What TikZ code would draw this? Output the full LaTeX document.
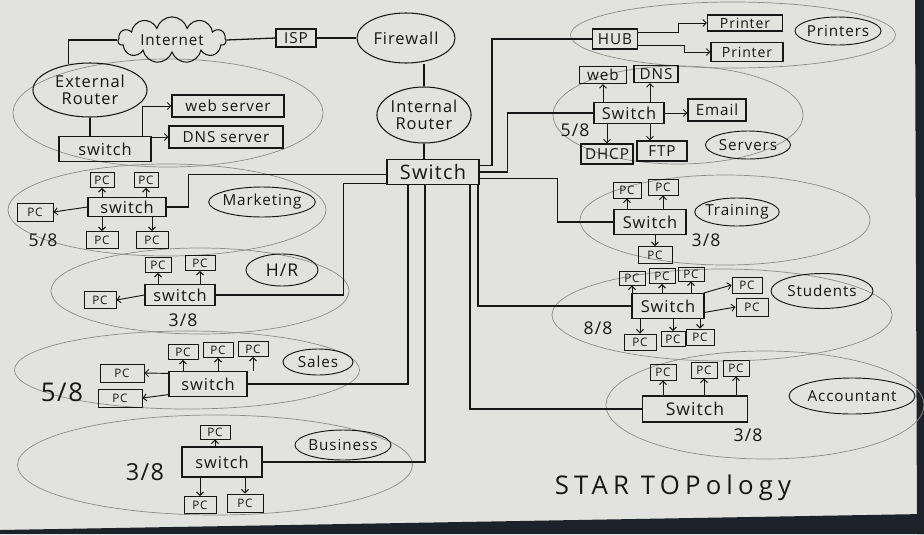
\documentclass[tikz,border=0pt]{standalone}
\usepackage{fontspec}
\setmainfont{Open Sans}[LetterSpace=6]
\usetikzlibrary{shapes.geometric,shapes.symbols,arrows.meta}
\definecolor{paper}{RGB}{226,226,222}
\definecolor{desk}{RGB}{28,34,42}
\definecolor{pencil}{RGB}{140,140,140}
\definecolor{ink}{RGB}{22,22,22}
\newcommand{\fsz}[1]{\fontsize{#1}{#1}\selectfont}

\begin{document}
\begin{tikzpicture}[x=0.3mm, y=-0.3mm,
  every node/.style={text=ink, inner sep=0pt},
  wh/.style 2 args={minimum width=#1*0.3mm, minimum height=#2*0.3mm},
  devbox/.style={rectangle, draw=ink, line width=0.9pt, font=\fsz{13}},
  pcbox/.style={rectangle, draw=ink, line width=0.8pt, font=\fsz{10}},
  hubnode/.style={ellipse, draw=ink, line width=0.9pt, font=\fsz{14}, align=center},
  cloudnode/.style={cloud, cloud puffs=11, aspect=3.2, draw=ink, line width=0.9pt, font=\fsz{13}},
  tagnode/.style={ellipse, draw=ink, line width=0.8pt, font=\fsz{13}, inner xsep=-1.5pt, inner ysep=-1pt},
  grp/.style={ellipse, draw=pencil, line width=0.6pt},
  ratio/.style={font=\fsz{15}},
  link/.style={draw=ink, line width=1.1pt},
  arr/.style={-{Straight Barb[length=3pt,width=6pt]}, draw=ink, line width=0.8pt},
]
  % Paper
  \fill[paper] (0,0) rectangle (924,534);
  \fill[desk] (0,530) -- (924,514) -- (924,534) -- (0,534) -- cycle;
  \fill[desk] (915,0) -- (924,0) -- (924,534) -- (917,534) -- cycle;
  \useasboundingbox (0,0) rectangle (924,534);

  % Groups
  \node[grp, wh={310}{108}] (exgrp) at (168,113) {};
  \node[grp, wh={318}{92}] (mkgrp) at (167,210) {};
  \node[grp, wh={298}{86}] (hrgrp) at (200,291) {};
  \node[grp, wh={345}{78}] (slgrp) at (187,370) {};
  \node[grp, wh={395}{100}] (bsgrp) at (215,465) {};
  \node[grp, wh={325}{66}] (prgrp) at (733,35) {};
  \node[grp, wh={250}{98}] (svgrp) at (678,115) {};
  \node[grp, wh={290}{90}] (trgrp) at (725,220) {};
  \node[grp, wh={340}{92}] (stgrp) at (722,315) {};
  \node[grp, wh={318}{108}] (acgrp) at (765,405) {};

  % Core
  \node[cloudnode, wh={108}{38}] (inet) at (172,40) {Internet};
  \node[devbox, wh={40}{18}] (isp) at (296,38) {ISP};
  \node[hubnode, wh={98}{50}] (fw) at (406,38) {Firewall};
  \node[hubnode, wh={94}{56}] (ir) at (424,115) {Internal\\Router};
  \node[devbox, wh={92}{25}, font=\fsz{17}] (mainsw) at (433,172) {Switch};

  % External
  \node[hubnode, wh={114}{54}] (er) at (90,90) {External\\Router};
  \node[devbox, wh={92}{25}, font=\fsz{14}] (exsw) at (105,149) {switch};
  \node[devbox, wh={112}{22}] (web) at (228,106) {web server};
  \node[devbox, wh={114}{22}] (dns) at (226,137) {DNS server};

  % Marketing
  \node[devbox, wh={78}{19}, font=\fsz{14}] (mksw) at (127,207) {switch};
  \node[pcbox, wh={24}{15}] (mkpc1) at (102,180) {PC};
  \node[pcbox, wh={24}{15}] (mkpc2) at (146,180) {PC};
  \node[pcbox, wh={36}{18}] (mkpc3) at (35,212) {PC};
  \node[pcbox, wh={32}{17}] (mkpc4) at (102,240) {PC};
  \node[pcbox, wh={32}{17}] (mkpc5) at (152,240) {PC};
  \node[tagnode, wh={98}{30}] (mktag) at (262,202) {Marketing};
  \node[ratio] (mkratio) at (43,240) {5/8};

  % H/R
  \node[devbox, wh={70}{21}, font=\fsz{14}] (hrsw) at (180,295) {switch};
  \node[pcbox, wh={26}{15}] (hrpc1) at (158,265) {PC};
  \node[pcbox, wh={30}{15}] (hrpc2) at (200,263) {PC};
  \node[pcbox, wh={32}{17}] (hrpc3) at (100,300) {PC};
  \node[tagnode, wh={72}{32}, font=\fsz{15}] (hrtag) at (282,270) {H/R};
  \node[ratio] (hrratio) at (183,320) {3/8};

  % Sales
  \node[devbox, wh={78}{25}, font=\fsz{14}] (slsw) at (208,384) {switch};
  \node[pcbox, wh={30}{15}] (slpc1) at (183,352) {PC};
  \node[pcbox, wh={30}{15}] (slpc2) at (218,350) {PC};
  \node[pcbox, wh={30}{15}] (slpc3) at (253,349) {PC};
  \node[pcbox, wh={44}{18}] (slpc4) at (122,373) {PC};
  \node[pcbox, wh={44}{18}] (slpc5) at (120,398) {PC};
  \node[tagnode, wh={70}{26}] (sltag) at (318,362) {Sales};
  \node[ratio, font=\fsz{22}] (slratio) at (62,392) {5/8};

  % Business
  \node[devbox, wh={80}{30}, font=\fsz{14}] (bssw) at (222,462) {switch};
  \node[pcbox, wh={30}{14}] (bspc1) at (215,432) {PC};
  \node[pcbox, wh={32}{17}] (bspc2) at (200,505) {PC};
  \node[pcbox, wh={36}{18}] (bspc3) at (245,503) {PC};
  \node[tagnode, wh={96}{30}] (bstag) at (343,445) {Business};
  \node[ratio, font=\fsz{20}] (bsratio) at (145,472) {3/8};

  % Printers
  \node[devbox, wh={45}{20}] (hub) at (615,39) {HUB};
  \node[devbox, wh={75}{16}, font=\fsz{12}] (prt1) at (745,23) {Printer};
  \node[devbox, wh={72}{19}, font=\fsz{12}] (prt2) at (747,52) {Printer};
  \node[tagnode, wh={86}{28}] (prtag) at (838,31) {Printers};

  % Servers
  \node[devbox, wh={70}{21}, font=\fsz{14}] (svsw) at (629,113) {Switch};
  \node[devbox, wh={47}{17}] (svweb) at (603,75) {web};
  \node[devbox, wh={44}{17}] (svdns) at (656,74) {DNS};
  \node[devbox, wh={58}{22}] (svmail) at (717,110) {Email};
  \node[devbox, wh={52}{20}] (svdhcp) at (607,154) {DHCP};
  \node[devbox, wh={50}{20}] (svftp) at (662,151) {FTP};
  \node[tagnode, wh={85}{28}] (svtag) at (748,145) {Servers};
  \node[ratio] (svratio) at (575,130) {5/8};

  % Training
  \node[devbox, wh={72}{25}, font=\fsz{14}] (trsw) at (650,222) {Switch};
  \node[pcbox, wh={28}{16}] (trpc1) at (627,190) {PC};
  \node[pcbox, wh={30}{16}] (trpc2) at (663,187) {PC};
  \node[pcbox, wh={34}{17}] (trpc3) at (655,255) {PC};
  \node[tagnode, wh={84}{28}] (trtag) at (737,212) {Training};
  \node[ratio] (trratio) at (706,240) {3/8};

  % Students
  \node[devbox, wh={72}{25}, font=\fsz{14}] (stsw) at (668,306) {Switch};
  \node[pcbox, wh={26}{14}] (stpc1) at (632,278) {PC};
  \node[pcbox, wh={26}{15}] (stpc2) at (662,276) {PC};
  \node[pcbox, wh={26}{14}] (stpc3) at (691,274) {PC};
  \node[pcbox, wh={30}{16}] (stpc4) at (747,285) {PC};
  \node[pcbox, wh={32}{18}] (stpc5) at (752,307) {PC};
  \node[pcbox, wh={32}{16}] (stpc6) at (640,342) {PC};
  \node[pcbox, wh={24}{15}] (stpc7) at (673,339) {PC};
  \node[pcbox, wh={28}{16}] (stpc8) at (700,337) {PC};
  \node[tagnode, wh={102}{35}] (sttag) at (822,291) {Students};
  \node[ratio] (stratio) at (598,328) {8/8};

  % Accountant
  \node[devbox, wh={105}{26}, font=\fsz{15}] (acsw) at (695,409) {Switch};
  \node[pcbox, wh={26}{16}] (acpc1) at (663,372) {PC};
  \node[pcbox, wh={26}{16}] (acpc2) at (704,370) {PC};
  \node[pcbox, wh={26}{16}] (acpc3) at (736,368) {PC};
  \node[tagnode, wh={126}{36}] (actag) at (852,396) {Accountant};
  \node[ratio] (acratio) at (748,435) {3/8};

  \node[font=\fsz{22}\addfontfeatures{LetterSpace=20}] (title) at (673,488) {STAR TOPology};

  % Backbone
  \draw[link] (inet.east) -- (isp.west);
  \draw[link] (isp.east) -- (fw.west);
  \draw[link] (inet.west) -| (er.130);
  \draw[link] (ir.north) -- (ir.north |- fw.south);
  \draw[link] (ir.south) -- (ir.south |- mainsw.north);
  \draw[link] (er.south) -- (er.south |- exsw.north);
  \draw[arr] (exsw.19) |- (web.west);
  \draw[arr] (exsw.east |- dns.west) -- (dns.west);

  % Uplinks
  \draw[link] (mksw.east) -- ++(22,0) |- (mainsw.183);
  \draw[link] (hrsw.east) -- ++(128,0) |- (mainsw.194);
  \draw[link] (slsw.east) -| ([xshift=-7.5mm]mainsw.south);
  \draw[link] (bssw.east) -| ([xshift=-2.4mm]mainsw.south);
  \draw[link] (hub.west) -- ++(-100,0) |- (mainsw.8);
  \draw[link] (svsw.west) -- ++(-86,0) |- (mainsw.east);
  \draw[link] (trsw.west) -- ++(-56,0) |- (mainsw.-8);
  \draw[link] (stsw.west) -| ([xshift=13.5mm]mainsw.south);
  \draw[link] (acsw.west) -| ([xshift=11.1mm]mainsw.south);

  % Marketing edges
  \draw[arr] (mkpc1.south |- mksw.north) -- (mkpc1.south);
  \draw[arr] (mkpc2.south |- mksw.north) -- (mkpc2.south);
  \draw[arr] (mksw.west) -- (mkpc3.east);
  \draw[arr] (mkpc4.north |- mksw.south) -- (mkpc4.north);
  \draw[arr] (mkpc5.north |- mksw.south) -- (mkpc5.north);

  % H/R edges
  \draw[arr] (hrpc1.south |- hrsw.north) -- (hrpc1.south);
  \draw[arr] (hrpc2.south |- hrsw.north) -- (hrpc2.south);
  \draw[arr] (hrsw.west) -- (hrpc3.east);

  % Sales edges
  \draw[arr] (slpc1.south |- slsw.north) -- (slpc1.south);
  \draw[arr] (slpc2.south |- slsw.north) -- (slpc2.south);
  \draw[arr] (slpc3.south |- slsw.north) -- (slpc3.south);
  \draw[arr] (slsw.165) -- (slpc4.east);
  \draw[arr] (slsw.195) -- (slpc5.east);

  % Business edges
  \draw[arr] (bspc1.south |- bssw.north) -- (bspc1.south);
  \draw[arr] (bspc2.north |- bssw.south) -- (bspc2.north);
  \draw[arr] (bspc3.north |- bssw.south) -- (bspc3.north);

  % Printer edges
  \draw[arr] (hub.15) -- ++(40,0) |- (prt1.west);
  \draw[arr] (hub.-15) -- ++(46,0) |- (prt2.west);

  % Server edges
  \draw[arr] (svweb.south |- svsw.north) -- (svweb.south);
  \draw[arr] ([xshift=-1.8mm]svdns.south |- svsw.north) -- ([xshift=-1.8mm]svdns.south);
  \draw[arr] (svsw.east) -- (svsw.east -| svmail.west);
  \draw[arr] (svdhcp.north |- svsw.south) -- (svdhcp.north);
  \draw[arr] ([xshift=-3.6mm]svftp.north |- svsw.south) -- ([xshift=-3.6mm]svftp.north);

  % Training edges
  \draw[arr] (trpc1.south |- trsw.north) -- (trpc1.south);
  \draw[arr] (trpc2.south |- trsw.north) -- (trpc2.south);
  \draw[arr] (trpc3.north |- trsw.south) -- (trpc3.north);

  % Student edges
  \draw[arr] (stpc1.south |- stsw.north) -- (stpc1.south);
  \draw[arr] (stpc2.south |- stsw.north) -- (stpc2.south);
  \draw[arr] (stpc3.south |- stsw.north) -- (stpc3.south);
  \draw[arr] (stsw.20) -- (stpc4.west);
  \draw[arr] (stsw.-10) -- (stpc5.west);
  \draw[arr] (stpc6.north |- stsw.south) -- (stpc6.north);
  \draw[arr] (stpc7.north |- stsw.south) -- (stpc7.north);
  \draw[arr] (stpc8.north |- stsw.south) -- (stpc8.north);

  % Accountant edges
  \draw[arr] (acpc1.south |- acsw.north) -- (acpc1.south);
  \draw[arr] (acpc2.south |- acsw.north) -- (acpc2.south);
  \draw[arr] (acpc3.south |- acsw.north) -- (acpc3.south);
\end{tikzpicture}
\end{document}
